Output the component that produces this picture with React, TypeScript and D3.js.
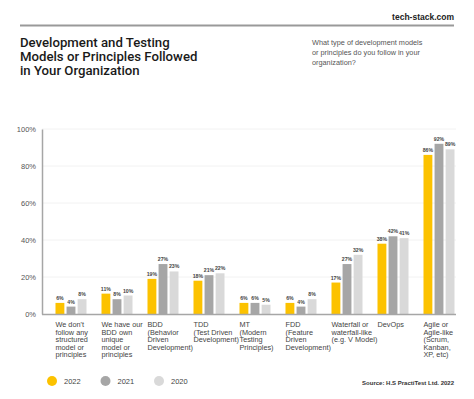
import { useRef, useEffect } from "react";
import * as d3 from "d3";

const categories = [
  "dontFollow",
  "ownModel",
  "BDD",
  "TDD",
  "MT",
  "FDD",
  "Waterfall",
  "DevOps",
  "Agile",
];

const categoryLabels: string[][] = [
  ["We don't", "follow any", "structured", "model or", "principles"],
  ["We have our", "BDD own", "unique", "model or", "principles"],
  ["BDD", "(Behavior", "Driven", "Development)"],
  ["TDD", "(Test Driven", "Development)"],
  ["MT", "(Modern", "Testing", "Principles)"],
  ["FDD", "(Feature", "Driven", "Development)"],
  ["Waterfall or", "waterfall-like", "(e.g. V Model)"],
  ["DevOps"],
  ["Agile or", "Agile-like", "(Scrum,", "Kanban,", "XP, etc)"],
];

const years = ["2022", "2021", "2020"];
const values2022 = [6, 11, 19, 18, 6, 6, 17, 38, 86];
const values2021 = [4, 8, 27, 21, 6, 4, 27, 42, 92];
const values2020 = [8, 10, 23, 22, 5, 8, 32, 41, 89];
const yTicks = [0, 20, 40, 60, 80, 100];

const yearColors = ["#fcc200", "#a6a6a6", "#d9d9d9"];

const titleLines = [
  "Development and Testing",
  "Models or Principles Followed",
  "in Your Organization",
];
const questionLines = [
  "What type of development models",
  "or principles do you follow in your",
  "organization?",
];

const FONT = "'Liberation Sans', Arial, sans-serif";

export default function App() {
  const svgRef = useRef<SVGSVGElement>(null);

  useEffect(() => {
    if (!svgRef.current) return;
    const width = 474;
    const height = 399;
    const svg = d3.select(svgRef.current);
    svg.selectAll("*").remove();
    svg.attr("width", width).attr("height", height).style("font-family", FONT);

    svg.append("rect").attr("width", width).attr("height", height).attr("fill", "#fff");

    // header
    svg.append("text")
      .attr("x", 454)
      .attr("y", 20)
      .attr("text-anchor", "end")
      .style("font-size", "8.5px")
      .style("font-weight", 700)
      .style("fill", "#222")
      .text("tech-stack.com");

    svg.append("line")
      .attr("x1", 20)
      .attr("x2", 454)
      .attr("y1", 25.5)
      .attr("y2", 25.5)
      .attr("stroke", "#999")
      .attr("stroke-width", 2);

    svg.append("g")
      .selectAll("text")
      .data(titleLines)
      .join("text")
      .attr("x", 20)
      .attr("y", (_, i) => 47 + i * 14)
      .style("font-family", "Roboto, sans-serif")
      .style("font-size", "13.2px")
      .style("font-weight", 500)
      .style("fill", "#1a1a1a")
      .text((d) => d);

    svg.append("g")
      .selectAll("text")
      .data(questionLines)
      .join("text")
      .attr("x", 312)
      .attr("y", (_, i) => 45 + i * 10)
      .style("font-size", "7.3px")
      .style("fill", "#555")
      .text((d) => d);

    // chart
    const y = d3.scaleLinear().domain([0, 100]).range([314, 129]);
    const x = d3
      .scaleBand<string>()
      .domain(categories)
      .range([48, 462])
      .paddingInner(0.326)
      .paddingOuter(0.163);
    const xInner = d3
      .scaleBand<string>()
      .domain(years)
      .range([0, x.bandwidth()])
      .paddingInner(0.2);

    const series = [values2022, values2021, values2020];
    const rows = categories.flatMap((c, ci) =>
      years.map((yr, yi) => ({ cat: c, year: yr, yi, value: series[yi][ci] }))
    );

    const g = svg.append("g");

    // grid
    g.selectAll(".grid")
      .data(yTicks.filter((t) => t > 0))
      .join("line")
      .attr("x1", 42)
      .attr("x2", 456)
      .attr("y1", (d) => y(d))
      .attr("y2", (d) => y(d))
      .attr("stroke", "#f2f2f2")
      .attr("stroke-width", 1);

    // y axis
    const yAxis = g.append("g")
      .attr("transform", "translate(42,0)")
      .call(d3.axisLeft(y).tickValues(yTicks).tickSize(0).tickPadding(6).tickFormat((d) => `${d}%`));
    yAxis.select(".domain").attr("stroke", "#a6a6a6").attr("stroke-width", 1.5);
    yAxis.selectAll("text")
      .style("font-size", "7.5px")
      .style("font-family", FONT)
      .style("fill", "#555");

    // bars
    g.selectAll(".bar")
      .data(rows)
      .join("rect")
      .attr("class", "bar")
      .attr("x", (d) => x(d.cat)! + xInner(d.year)!)
      .attr("y", (d) => y(d.value))
      .attr("width", xInner.bandwidth())
      .attr("height", (d) => y(0) - y(d.value))
      .attr("fill", (d) => yearColors[d.yi]);

    g.selectAll(".val")
      .data(rows)
      .join("text")
      .attr("class", "val")
      .attr("x", (d) => x(d.cat)! + xInner(d.year)! + xInner.bandwidth() / 2)
      .attr("y", (d) => y(d.value) - 3)
      .attr("text-anchor", "middle")
      .style("font-size", "5.2px")
      .style("font-weight", 700)
      .style("fill", "#444")
      .text((d) => `${d.value}%`);

    // x axis line
    g.append("line")
      .attr("x1", 42)
      .attr("x2", 456)
      .attr("y1", y(0) + 0.5)
      .attr("y2", y(0) + 0.5)
      .attr("stroke", "#a6a6a6")
      .attr("stroke-width", 1.5);

    // category labels
    const labels = g.selectAll(".cat")
      .data(categories)
      .join("text")
      .attr("class", "cat")
      .attr("x", (d) => x(d)!)
      .attr("y", 327)
      .style("font-size", "7.3px")
      .style("fill", "#444");
    labels
      .selectAll("tspan")
      .data((_, i) => categoryLabels[i])
      .join("tspan")
      .attr("x", function () {
        return (this.parentNode as SVGTextElement).getAttribute("x");
      })
      .attr("dy", (_, i) => (i === 0 ? 0 : 7.6))
      .text((d) => d);

    // legend
    const legend = g.selectAll(".leg")
      .data(years)
      .join("g")
      .attr("class", "leg")
      .attr("transform", (_, i) => `translate(${52 + i * 53.5},381)`);
    legend.append("circle").attr("r", 5).attr("fill", (_, i) => yearColors[i]);
    legend.append("text")
      .attr("x", 12)
      .attr("y", 3)
      .style("font-size", "7.5px")
      .style("fill", "#444")
      .text((d) => d);

    svg.append("text")
      .attr("x", 454)
      .attr("y", 385)
      .attr("text-anchor", "end")
      .style("font-size", "6px")
      .style("font-weight", 700)
      .style("fill", "#333")
      .text("Source: H.S PractiTest Ltd. 2022");
  }, []);

  return <svg ref={svgRef} style={{ display: "block", margin: "-8px" }} />;
}
